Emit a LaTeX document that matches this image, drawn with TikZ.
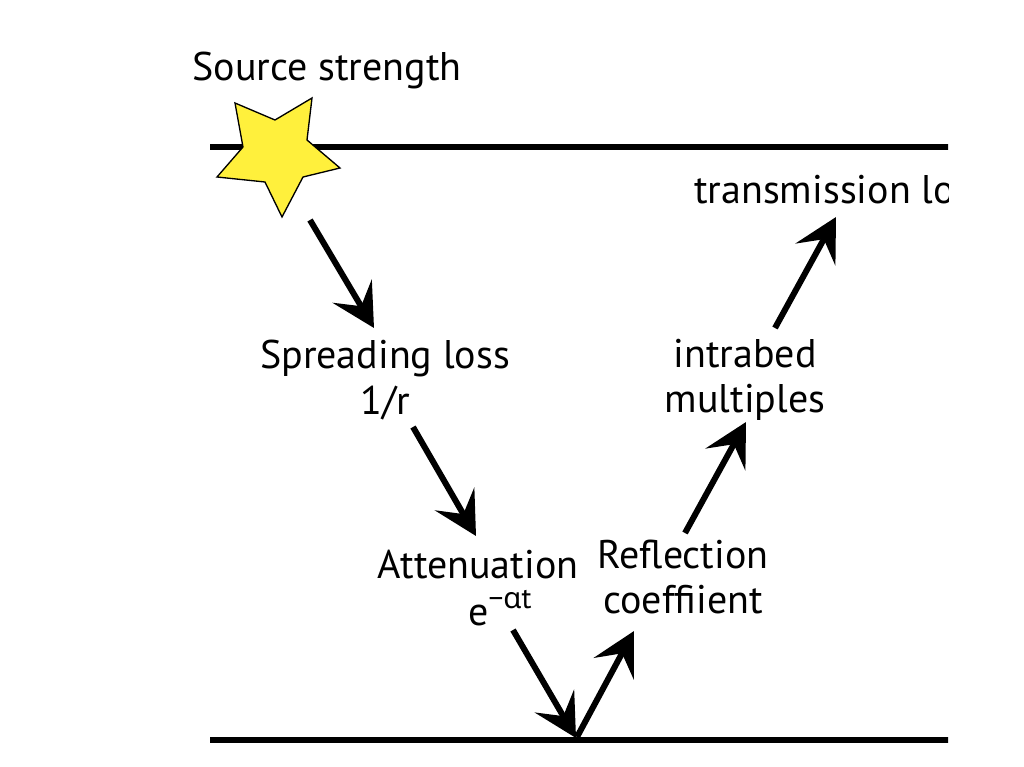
\documentclass[tikz,border=0pt]{standalone}
\usepackage{fontspec}
\setmainfont{PT Sans}
\newfontfamily\grkfont{Noto Sans}
\usetikzlibrary{arrows.meta}
\begin{document}
\begin{tikzpicture}[x=0.75pt,y=-0.75pt,
  lbl/.style={font=\fontsize{30}{34}\selectfont, inner sep=0pt, align=center},
  layer/.style={line width=4.5pt},
  ray/.style={line width=4.5pt, -{Stealth[length=32pt,width=34pt,inset=13pt]}}]
\useasboundingbox (0,0) rectangle (1024,767);
\begin{scope}
\clip (0,0) rectangle (948,767);
% layer boundaries
\coordinate (t1) at (210,147); \coordinate (t2) at (960,147);
\coordinate (b1) at (210,740); \coordinate (b2) at (960,740);
\draw[layer] (t1) -- (t2);
\draw[layer] (b1) -- (b2);
% star
\draw[fill={rgb,255:red,255;green,240;blue,60}, line width=1pt, line join=miter]
  (235,103) -- (275,120) -- (312,98) -- (307,140) -- (340,168) -- (303,177)
  -- (282,217) -- (265,182) -- (217,177) -- (243,147) -- cycle;
% labels
\node[lbl] (src) at (327,70) {Source strength};
\node[lbl] (spread) at (385,380) {Spreading loss\\1/r};
\node[lbl, anchor=base] (atten) at (478,578) {Attenuation};
\node[lbl, anchor=base west] (attexp) at (468,625) {e\raisebox{0.42em}{\fontsize{22}{24}\selectfont −{\grkfont α}t}};
\node[lbl] (refl) at (683,577) {Reflection\\coeffiient};
\node[lbl] (intra) at (745,380) {intrabed\\multiples};
\node[lbl, anchor=base west] (trans) at (694,203) {transmission loss};
% ray coordinates
\coordinate (a1s) at (310,220); \coordinate (a1e) at (374,328);
\coordinate (a2s) at (413,427); \coordinate (a2e) at (476,536);
\coordinate (a3s) at (513,630); \coordinate (a3e) at (576,738);
\coordinate (a4s) at (577,737); \coordinate (a4e) at (634,631);
\coordinate (a5s) at (685,533); \coordinate (a5e) at (746,422);
\coordinate (a6s) at (775,328); \coordinate (a6e) at (836,217);
\draw[ray] (a1s) -- (a1e);
\draw[ray] (a2s) -- (a2e);
\draw[ray] (a3s) -- (a3e);
\draw[ray] (a4s) -- (a4e);
\draw[ray] (a5s) -- (a5e);
\draw[ray] (a6s) -- (a6e);
\end{scope}
\end{tikzpicture}
\end{document}
